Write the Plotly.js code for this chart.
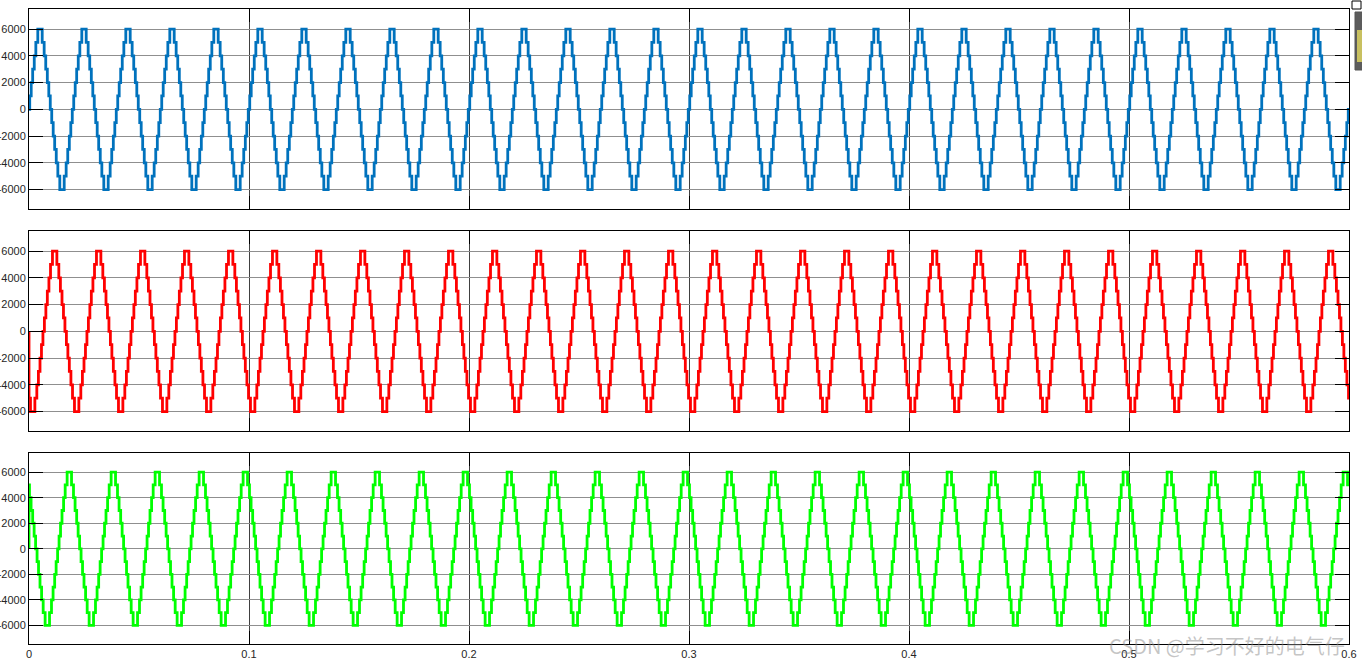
<!DOCTYPE html>
<html>
<head>
<meta charset="utf-8">
<script src="https://cdn.plot.ly/plotly-3.0.1.min.js"></script>
<style>html,body{margin:0;padding:0;background:#fff;}#chart{width:1362px;height:664px;}</style>
</head>
<body>
<div id="chart"></div>
<script>
// ---- data ----
const seriesNames = ['Phase A', 'Phase B', 'Phase C'];
const seriesColors = ['#0072BD', '#FF0000', '#00FF00'];
const phaseShiftDeg = [0, -120, 120];          // phase of each staircase wave
const periodSec = 0.02;                          // 50 Hz, 30 cycles over 0.6 s
const endTime = 0.6;
const levelStepV = 1000;                         // 13-level staircase, 1000 V per step
const riseAnglesDeg = [6, 18, 30, 43, 56, 72];   // angles (first quarter) at which levels 1..6 are reached
const xTickVals = [0, 0.1, 0.2, 0.3, 0.4, 0.5, 0.6];
const xTickText = ['0', '0.1', '0.2', '0.3', '0.4', '0.5', '0.6'];
const yTickVals = [-6000, -4000, -2000, 0, 2000, 4000, 6000];
const yTickText = ['-6000', '-4000', '-2000', '0', '2000', '4000', '6000'];

// one period of switching events [angle, level]
function periodEvents() {
  const ev = [];
  riseAnglesDeg.forEach((a, i) => ev.push([a, i + 1]));
  riseAnglesDeg.forEach((a, i) => ev.push([180 - a, i]));
  riseAnglesDeg.forEach((a, i) => ev.push([180 + a, -(i + 1)]));
  riseAnglesDeg.forEach((a, i) => ev.push([360 - a, -i]));
  ev.sort((p, q) => p[0] - q[0]);
  return ev;
}
const events = periodEvents();
function levelAt(th) {
  th = ((th % 360) + 360) % 360;
  let v = 0;
  for (const [a, l] of events) { if (a <= th) v = l; }
  return v;
}
function staircase(phase) {
  const xs = [0], ys = [0];
  let cur = levelAt(phase) * levelStepV;
  xs.push(0); ys.push(cur);
  const nCyc = Math.ceil(endTime / periodSec) + 1;
  for (let c = -1; c <= nCyc; c++) {
    for (const [a, l] of events) {
      const t = (c * 360 + a - phase) / 360 * periodSec;
      if (t > 0 && t < endTime) { xs.push(t); ys.push(l * levelStepV); cur = l * levelStepV; }
    }
  }
  xs.push(endTime); ys.push(cur);
  return {xs, ys};
}

const traces = seriesNames.map((name, i) => {
  const s = staircase(phaseShiftDeg[i]);
  return {
    x: s.xs, y: s.ys, type: 'scatter', mode: 'lines', name: name,
    line: {color: seriesColors[i], width: 2.8, shape: 'hv'},
    xaxis: i === 0 ? 'x' : 'x' + (i + 1),
    yaxis: i === 0 ? 'y' : 'y' + (i + 1),
    hoverinfo: 'skip'
  };
});

const font = {family: 'Liberation Sans, Arial, sans-serif', size: 11, color: '#262626'};
function xAxis(anchor, labels) {
  return {
    anchor: anchor, range: [0, endTime], tickvals: xTickVals, ticktext: xTickText,
    showticklabels: labels, showgrid: true, gridcolor: '#404040', gridwidth: 1,
    ticks: 'inside', ticklen: 13, tickcolor: '#000', tickwidth: 1,
    showline: true, linecolor: '#000', linewidth: 1, mirror: 'ticks',
    zeroline: false, tickfont: font, fixedrange: true
  };
}
function yAxis(anchor, domain) {
  return {
    anchor: anchor, domain: domain, range: [-7450, 7500],
    tickvals: yTickVals, ticktext: yTickText,
    showgrid: true, gridcolor: '#8f8f8f', gridwidth: 1,
    ticks: 'inside', ticklen: 14, tickcolor: '#000', tickwidth: 1,
    showline: true, linecolor: '#000', linewidth: 1, mirror: 'ticks',
    zeroline: false, tickfont: font, fixedrange: true
  };
}
// pixel helpers for paper coords
const L = 29, R = 1349, T = 9, B = 644;
const px = v => (v - L) / (R - L);
const py = v => (B - v) / (B - T);

const layout = {
  width: 1362, height: 664,
  margin: {l: L, r: 1362 - R, t: T, b: 664 - B},
  paper_bgcolor: '#fff', plot_bgcolor: '#fff',
  showlegend: false,
  xaxis: xAxis('y', false),
  xaxis2: xAxis('y2', false),
  xaxis3: xAxis('y3', true),
  yaxis: yAxis('x', [py(209), 1]),
  yaxis2: yAxis('x2', [py(431), py(231)]),
  yaxis3: yAxis('x3', [0, py(453)]),
  annotations: [{
    text: 'CSDN @学习不好的电气仔', xref: 'paper', yref: 'paper',
    x: px(1347), y: py(645), xanchor: 'right', yanchor: 'middle', showarrow: false,
    font: {family: 'Noto Sans CJK SC, sans-serif', size: 20, color: 'rgba(140,140,140,0.5)'}
  }],
  shapes: [
    {type: 'rect', xref: 'paper', yref: 'paper', x0: px(1352), x1: px(1361), y0: py(9), y1: py(1),
     line: {color: '#000', width: 1}, fillcolor: '#fff'},
    {type: 'rect', xref: 'paper', yref: 'paper', x0: px(1355), x1: px(1363), y0: py(70), y1: py(12),
     line: {color: '#555', width: 1}, fillcolor: '#5c5c5c'},
    {type: 'rect', xref: 'paper', yref: 'paper', x0: px(1357), x1: px(1362), y0: py(62), y1: py(30),
     line: {width: 0}, fillcolor: '#c8c060'}
  ]
};
Plotly.newPlot('chart', traces, layout, {staticPlot: true, displayModeBar: false});
</script>
</body>
</html>
